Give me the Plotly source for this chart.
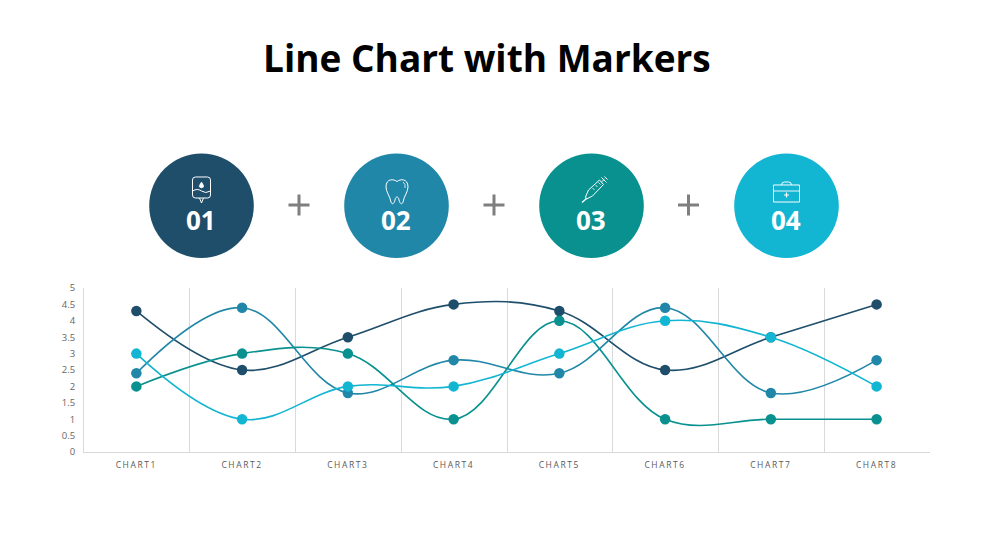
import plotly.graph_objects as go

W, H = 988, 556
PL, PR, PT, PB = 84, 930, 288, 452

categories = ["CHART1", "CHART2", "CHART3", "CHART4", "CHART5", "CHART6", "CHART7", "CHART8"]
series_a = [4.3, 2.5, 3.5, 4.5, 4.3, 2.5, 3.5, 4.5]
series_b = [2.4, 4.4, 1.8, 2.8, 2.4, 4.4, 1.8, 2.8]
series_c = [2, 3, 3, 1, 4, 1, 1, 1]
series_d = [3, 1, 2, 2, 3, 4, 3.5, 2]
series_colors = ["#1f4e6b", "#2187a8", "#08918f", "#12b5d2"]
y_ticks = [0, 0.5, 1, 1.5, 2, 2.5, 3, 3.5, 4, 4.5, 5]
y_labels = ["0", "0.5", "1", "1.5", "2", "2.5", "3", "3.5", "4", "4.5", "5"]
badges = ["01", "02", "03", "04"]
badge_x = [201.5, 396.5, 591.5, 786.5]
plus_x = [299, 494, 688.5]

x_idx = list(range(len(categories)))
fig = go.Figure()
for vals, col, name in zip([series_a, series_b, series_c, series_d], series_colors, "ABCD"):
    fig.add_trace(go.Scatter(
        x=x_idx, y=vals, mode="lines+markers", name=name,
        line=dict(color=col, width=1.6, shape="spline", smoothing=1.1),
        marker=dict(color=col, size=10.5), cliponaxis=False, showlegend=False))


def px(x):
    return (x - PL) / (PR - PL)


def py(y):
    return (PB - y) / (PB - PT)


def P(cmds):
    out = []
    for c in cmds:
        if isinstance(c, str):
            out.append(c)
        else:
            out.append(f"{px(c[0]):.5f},{py(c[1]):.5f}")
    return " ".join(out)


shapes = []
annots = []


def path(cmds, color="white", width=1.0, fill=None):
    shapes.append(dict(type="path", xref="paper", yref="paper", path=P(cmds),
                       line=dict(color=color, width=width),
                       fillcolor=fill if fill else "rgba(0,0,0,0)", layer="above"))


for cx, lab, col in zip(badge_x, badges, series_colors):
    shapes.append(dict(type="circle", xref="paper", yref="paper",
                       x0=px(cx - 52.3), x1=px(cx + 52.3), y0=py(258), y1=py(153.5),
                       fillcolor=col, line=dict(width=0), layer="below"))
    annots.append(dict(text=f"<b>{lab}</b>", xref="paper", yref="paper", x=px(cx - 0.5), y=py(220.3),
                       showarrow=False, xanchor="center", yanchor="middle",
                       font=dict(family="Open Sans", size=26, color="white")))

for x in plus_x:
    path(["M", (x - 10.5, 205), "L", (x + 10.5, 205), "M", (x, 194.5), "L", (x, 215.5)], color="#7f7f7f", width=3)

# icon 01: drip bag
c = badge_x[0]
path(["M", (c - 6, 177), "L", (c + 6, 177), "Q", (c + 9, 177), (c + 9, 180), "L", (c + 9, 195),
      "Q", (c + 9, 198), (c + 6, 198), "L", (c - 6, 198), "Q", (c - 9, 198), (c - 9, 195), "L", (c - 9, 180),
      "Q", (c - 9, 177), (c - 6, 177), "Z"])
path(["M", (c - 9, 191), "Q", (c - 4, 188), (c, 191), "Q", (c + 4, 194), (c + 9, 191)])
path(["M", (c - 2, 198), "L", (c, 203), "L", (c + 2, 198)])
path(["M", (c, 182), "Q", (c + 3, 186), (c + 2, 187), "Q", (c, 189), (c - 2, 187), "Q", (c - 3, 186), (c, 182), "Z"], fill="white", width=0.5)

# icon 02: tooth
c = badge_x[1] + 0.5
path(["M", (c, 181.5), "C", (c - 3, 179), (c - 11, 178), (c - 11, 187), "C", (c - 11, 192), (c - 7, 196), (c - 6, 202),
      "C", (c - 5, 205), (c - 3, 204), (c - 2, 200), "C", (c - 1.5, 196), (c + 1.5, 196), (c + 2, 200),
      "C", (c + 3, 204), (c + 5, 205), (c + 6, 202), "C", (c + 7, 196), (c + 11, 192), (c + 11, 187),
      "C", (c + 11, 178), (c + 3, 179), (c, 181.5), "Z"])
path(["M", (c + 6, 182), "Q", (c + 9, 184), (c + 8, 188)], width=0.8)

# icon 03: syringe
c = badge_x[2]
path(["M", (c - 3, 190), "L", (c + 8, 180), "L", (c + 12, 184.5), "L", (c + 1, 196), "L", (c - 5, 199), "L", (c - 6, 197), "Z"])
path(["M", (c - 5, 198.5), "L", (c - 9.5, 202.5)], width=1.4)
path(["M", (c + 10, 177.5), "L", (c + 15, 182.5), "M", (c + 10, 182), "L", (c + 13, 179), "M", (c + 13, 176.5), "L", (c + 16, 179.5)])
path(["M", (c + 1, 188), "L", (c + 3, 190), "M", (c + 4, 185), "L", (c + 6, 187), "M", (c + 7, 182.5), "L", (c + 9, 184.5)], width=0.8)

# icon 04: medical case
c = badge_x[3]
path(["M", (c - 13, 185), "L", (c + 13, 185), "L", (c + 13, 202), "L", (c - 13, 202), "Z"])
path(["M", (c - 13, 191), "L", (c + 13, 191)], width=0.9)
path(["M", (c - 5, 185), "Q", (c - 5, 182), (c - 2, 182), "L", (c + 2, 182), "Q", (c + 5, 182), (c + 5, 185)])
path(["M", (c - 2.5, 195), "L", (c + 2.5, 195), "M", (c, 192.5), "L", (c, 197.5)], width=1.2)

annots.append(dict(text="<b>Line Chart with Markers</b>", xref="paper", yref="paper",
                   x=px(487), y=py(57.5), showarrow=False, xanchor="center", yanchor="middle",
                   font=dict(family="Open Sans", size=37, color="black")))

fig.update_layout(
    width=W, height=H, margin=dict(l=PL, r=W - PR, t=PT, b=H - PB),
    paper_bgcolor="white", plot_bgcolor="white", showlegend=False,
    shapes=shapes, annotations=annots,
    xaxis=dict(range=[-0.495, 7.505], tickmode="array", tickvals=x_idx, ticktext=categories,
               showgrid=False, zeroline=False, ticks="", showline=True, linecolor="#d9d9d9", linewidth=1,
               ticklabelstandoff=5,
               tickfont=dict(family="Open Sans", size=8.5, color="#595959"),
               minor=dict(tickmode="array", tickvals=[i + 0.507 for i in x_idx[:-1]],
                          showgrid=True, gridcolor="#d9d9d9", gridwidth=1, ticks="")),
    yaxis=dict(range=[0, 5], tickmode="array", tickvals=y_ticks, ticktext=y_labels,
               showgrid=False, zeroline=False, ticks="", showline=True, linecolor="#d9d9d9", linewidth=1,
               ticklabelstandoff=6,
               tickfont=dict(family="Open Sans", size=9.5, color="#666666")),
)
spacing = """
document.body.style.margin='0';document.body.style.overflow='hidden';
function sp(){document.querySelectorAll('.xtick text').forEach(function(t){t.style.letterSpacing='1.6px';});}
sp();
var gd=document.querySelector('.plotly-graph-div');
if(gd&&gd.on){gd.on('plotly_afterplot',sp);}
"""
fig.write_html("out.html", post_script=spacing, config=dict(displayModeBar=False))
